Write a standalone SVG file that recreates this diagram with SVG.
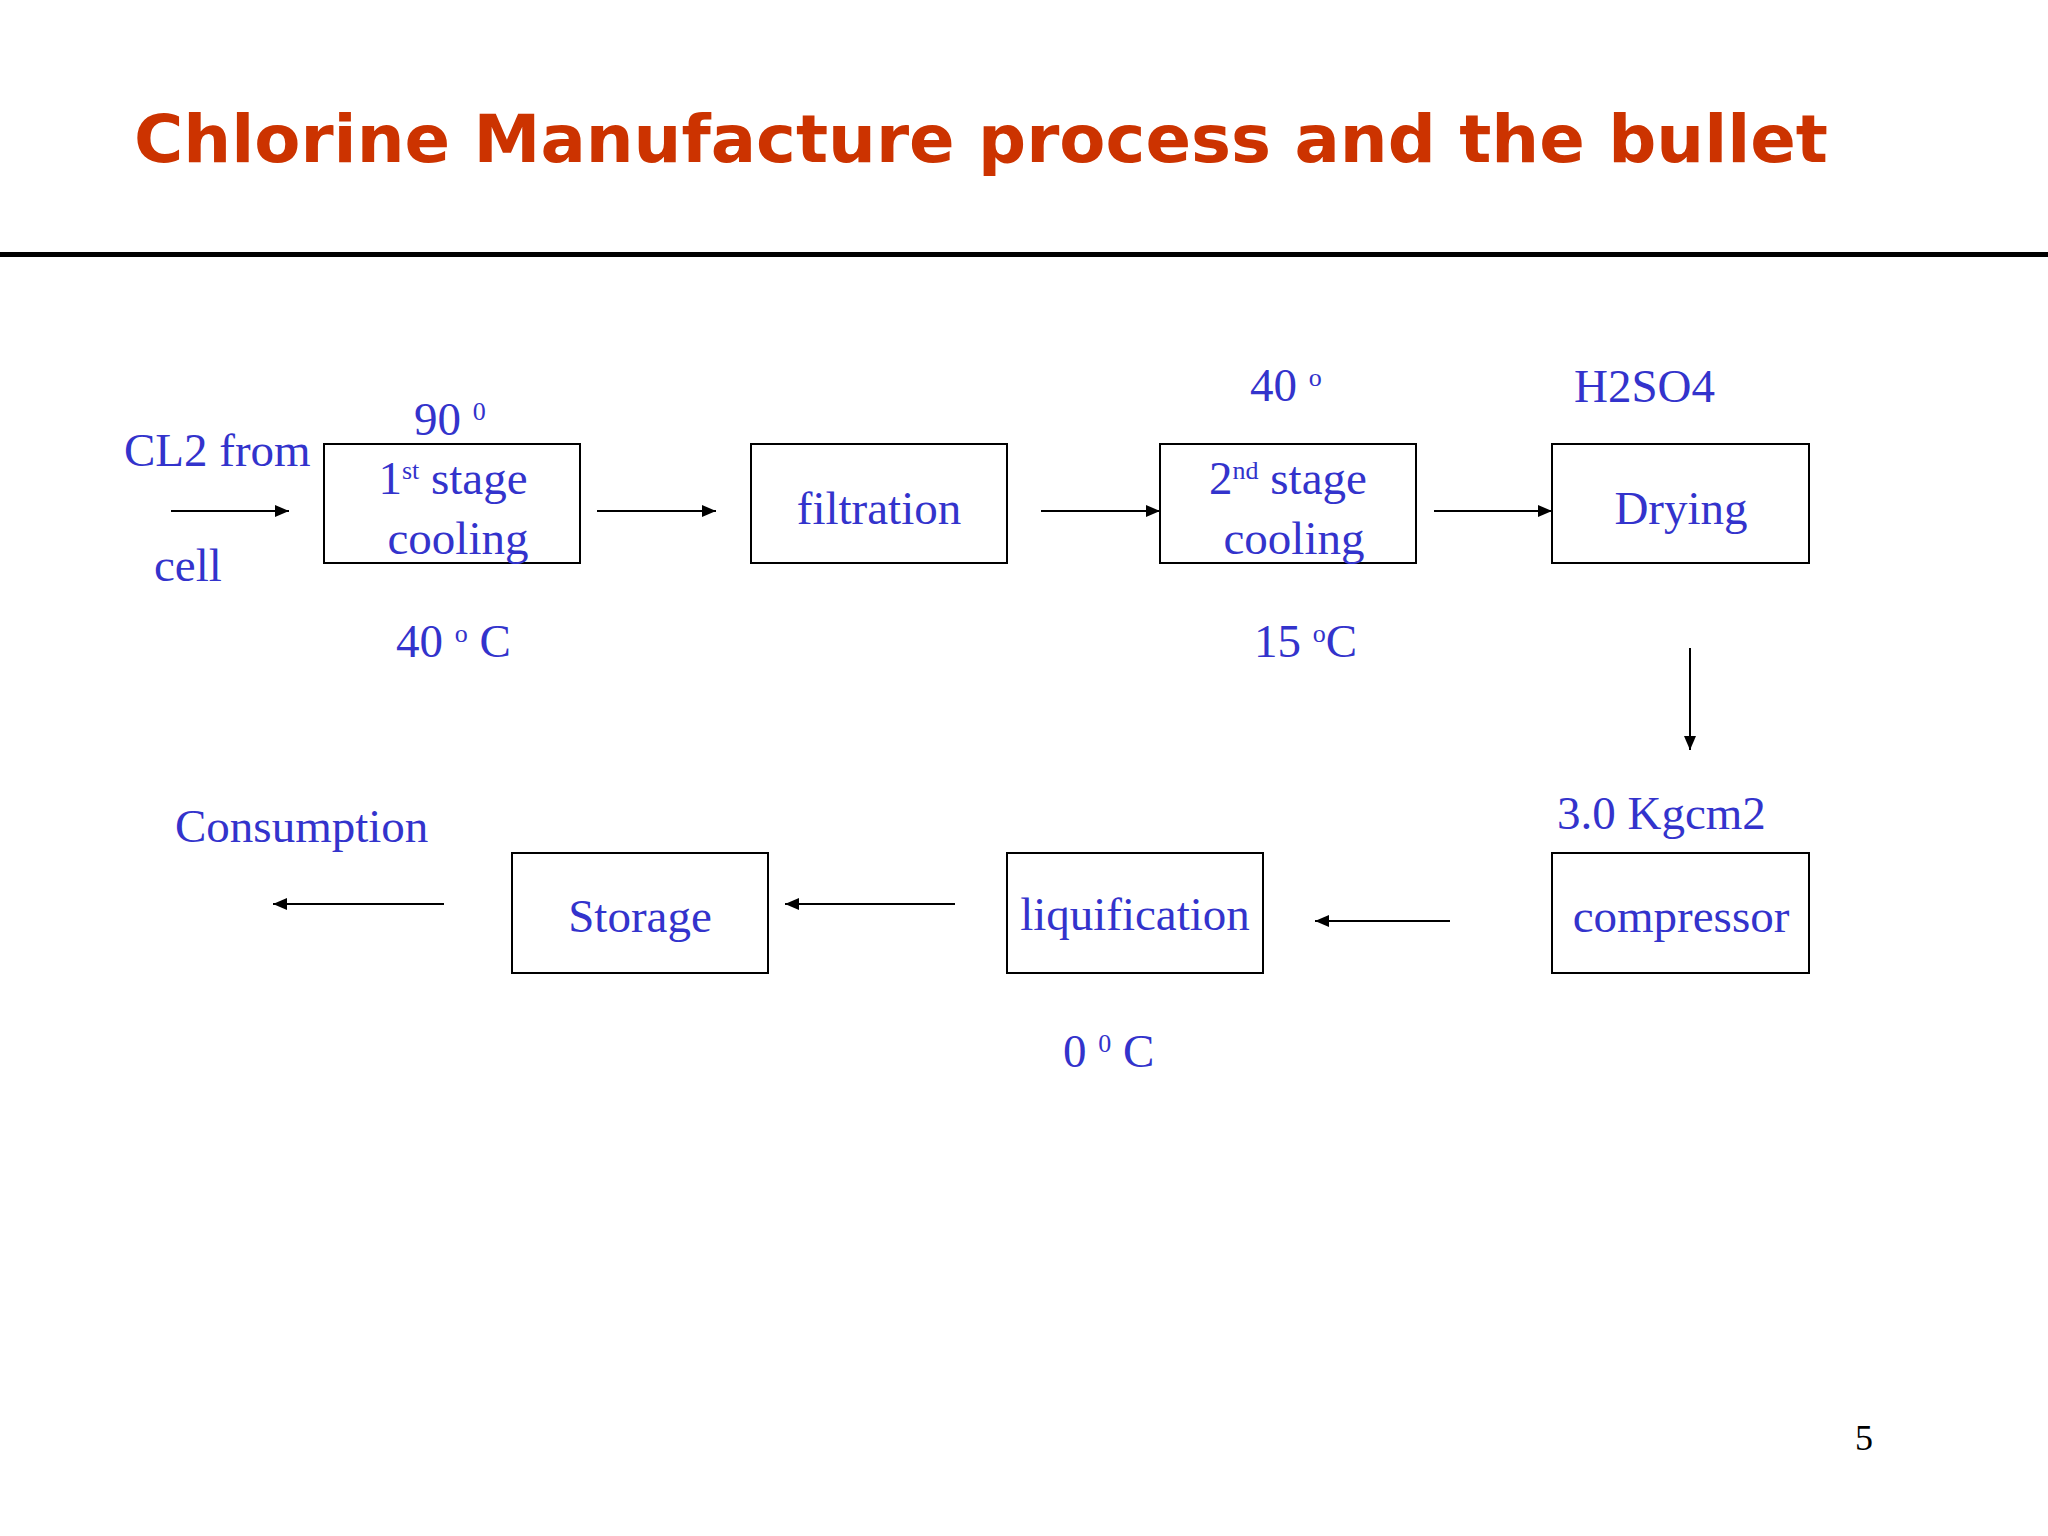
<svg xmlns="http://www.w3.org/2000/svg" width="2048" height="1536" viewBox="0 0 2048 1536">
<defs>
<marker id="ah" markerWidth="14" markerHeight="12" refX="14" refY="6" orient="auto" markerUnits="userSpaceOnUse"><path d="M0,0 L14,6 L0,12 z" fill="#000"/></marker>
<style>
.t{font-family:"Liberation Serif",serif;font-size:47px;fill:#3333cc}
.c{text-anchor:middle}
.s{font-size:26px}
.b{fill:none;stroke:#000;stroke-width:2}
.a{stroke:#000;stroke-width:2;marker-end:url(#ah)}
</style>
</defs>
<rect width="2048" height="1536" fill="#fff"/>
<text x="134" y="162" font-family="DejaVu Sans,sans-serif" font-weight="bold" font-size="66" fill="#cc3300" textLength="1694" lengthAdjust="spacingAndGlyphs">Chlorine Manufacture process and the bullet</text>
<rect x="0" y="252" width="2048" height="5" fill="#000"/>
<g id="n1"><rect class="b" x="324" y="444" width="256" height="119"/><text class="t c" x="453" y="494">1<tspan class="s" dy="-15">st</tspan><tspan dy="15"> stage</tspan></text><text class="t c" x="458" y="554">cooling</text></g>
<g id="n2"><rect class="b" x="751" y="444" width="256" height="119"/><text class="t c" x="879" y="524">filtration</text></g>
<g id="n3"><rect class="b" x="1160" y="444" width="256" height="119"/><text class="t c" x="1288" y="494">2<tspan class="s" dy="-15">nd</tspan><tspan dy="15"> stage</tspan></text><text class="t c" x="1294" y="554">cooling</text></g>
<g id="n4"><rect class="b" x="1552" y="444" width="257" height="119"/><text class="t c" x="1681" y="524">Drying</text></g>
<g id="n5"><rect class="b" x="1552" y="853" width="257" height="120"/><text class="t c" x="1681" y="932">compressor</text></g>
<g id="n6"><rect class="b" x="1007" y="853" width="256" height="120"/><text class="t c" x="1135" y="930">liquification</text></g>
<g id="n7"><rect class="b" x="512" y="853" width="256" height="120"/><text class="t c" x="640" y="932">Storage</text></g>
<g id="connectors">
<line class="a" x1="171" y1="511" x2="289" y2="511"/>
<line class="a" x1="597" y1="511" x2="716" y2="511"/>
<line class="a" x1="1041" y1="511" x2="1160" y2="511"/>
<line class="a" x1="1434" y1="511" x2="1552" y2="511"/>
<line class="a" x1="1690" y1="648" x2="1690" y2="750"/>
<line class="a" x1="1450" y1="921" x2="1315" y2="921"/>
<line class="a" x1="955" y1="904" x2="785" y2="904"/>
<line class="a" x1="444" y1="904" x2="273" y2="904"/>
</g>
<g id="labels">
<text class="t" x="124" y="466">CL2 from</text>
<text class="t" x="154" y="581">cell</text>
<text class="t" x="414" y="435">90 <tspan class="s" dy="-15">0</tspan></text>
<text class="t" x="396" y="657">40 <tspan class="s" dy="-15">o</tspan><tspan dy="15"> C</tspan></text>
<text class="t" x="1250" y="401">40 <tspan class="s" dy="-15">o</tspan></text>
<text class="t" x="1254" y="657">15 <tspan class="s" dy="-15">o</tspan><tspan dy="15">C</tspan></text>
<text class="t" x="1574" y="402">H2SO4</text>
<text class="t" x="1557" y="829">3.0 Kgcm2</text>
<text class="t" x="175" y="842">Consumption</text>
<text class="t" x="1063" y="1067">0 <tspan class="s" dy="-15">0</tspan><tspan dy="15"> C</tspan></text>
<text x="1855" y="1450" font-family="Liberation Serif,serif" font-size="36" fill="#000">5</text>
</g>
</svg>
